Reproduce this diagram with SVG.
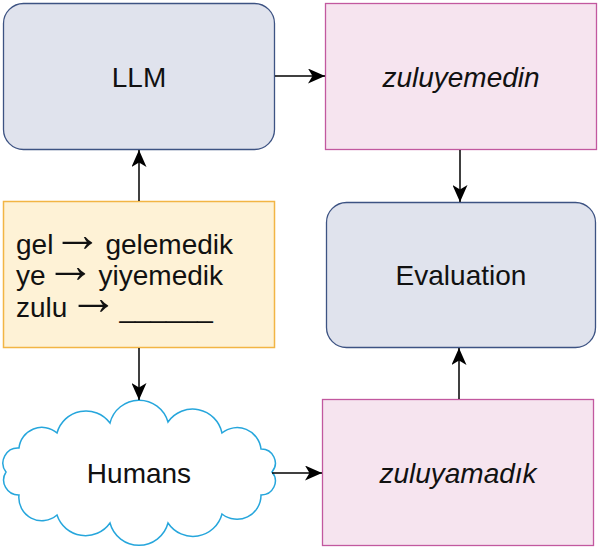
<svg xmlns="http://www.w3.org/2000/svg" width="600" height="550" viewBox="0 0 600 550">
<style>
  .t { font-family: "Liberation Sans", Arial, sans-serif; font-size: 28px; fill: #111; }
  .c { text-anchor: middle; }
  .i { font-style: italic; }
  .ar { font-size: 50px; }
  .blue { fill: #e0e3ed; stroke: #3d5383; stroke-width: 1.3; }
  .pink { fill: #f6e4ef; stroke: #c2589f; stroke-width: 1.3; }
  .yellow { fill: #fef2d6; stroke: #f2b544; stroke-width: 1.5; }
  .cloud { fill: #ffffff; stroke: #26a6dc; stroke-width: 1.5; }
  .edge { fill: none; stroke: #000; stroke-width: 1.5; marker-end: url(#arr); }
</style>
<defs>
  <marker id="arr" viewBox="0 0 17 15" refX="17" refY="7.5" markerWidth="17" markerHeight="15" markerUnits="userSpaceOnUse" orient="auto">
    <path d="M0,0 L17,7.5 L0,15 L4.5,7.5 Z" fill="#000"/>
  </marker>
</defs>
<rect width="600" height="550" fill="#ffffff"/>
<g id="llm">
  <rect class="blue" x="3.5" y="3.5" width="271" height="146" rx="20"/>
  <text class="t c" x="139" y="87">LLM</text>
</g>
<g id="zuluyemedin">
  <rect class="pink" x="325.5" y="3.5" width="271" height="146"/>
  <text class="t c i" x="461" y="87">zuluyemedin</text>
</g>
<g id="evaluation">
  <rect class="blue" x="326.5" y="202.5" width="269" height="145" rx="20"/>
  <text class="t c" x="461" y="285">Evaluation</text>
</g>
<g id="prompt">
  <rect class="yellow" x="3.5" y="201.5" width="271" height="146"/>
  <text class="t" x="16" y="254">gel<tspan class="ar" dx="-1" dy="-3">→</tspan><tspan dx="3" dy="3">gelemedik</tspan></text>
  <text class="t" x="16" y="285">ye<tspan class="ar" dy="-3">→</tspan><tspan dx="3" dy="3">yiyemedik</tspan></text>
  <text class="t" x="16" y="317">zulu<tspan class="ar" dx="1" dy="-3">→</tspan><tspan dx="1" dy="3">______</tspan></text>
</g>
<g id="humans">
  <path class="cloud" d="M57,433 A30,30 0 0 1 110,423 A30,30 0 0 1 168,422 A30,30 0 0 1 222,433 A24,24 0 0 1 261,449 A14,14 0 0 1 272,472 A14,14 0 0 1 261,495 A24,24 0 0 1 222,514 A30,30 0 0 1 168,523 A30,30 0 0 1 110,523 A30,30 0 0 1 57,515 A23,23 0 0 1 19,495 A15,15 0 0 1 6,472 A15,15 0 0 1 19,448 A23,23 0 0 1 57,433 Z"/>
  <text class="t c" x="139" y="483">Humans</text>
</g>
<g id="zuluyamadik">
  <rect class="pink" x="322.5" y="399.5" width="271" height="146"/>
  <text class="t c i" x="458" y="483">zuluyamadık</text>
</g>
<g id="connectors">
  <line class="edge" x1="275" y1="76" x2="325" y2="76"/>
  <line class="edge" x1="460" y1="150" x2="460" y2="202"/>
  <line class="edge" x1="139" y1="201" x2="139" y2="150"/>
  <line class="edge" x1="139" y1="348" x2="139" y2="400"/>
  <line class="edge" x1="272" y1="473" x2="322" y2="473"/>
  <line class="edge" x1="459" y1="399" x2="459" y2="348"/>
</g>
</svg>
